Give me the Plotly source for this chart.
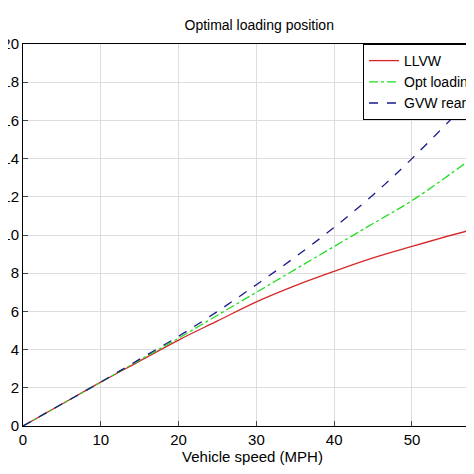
import plotly.graph_objects as go

speed = [0, 5, 10, 15, 20, 25, 30, 35, 40, 45, 50, 57, 59]
llvw = [0, 1.15, 2.3, 3.4, 4.5, 5.5, 6.5, 7.35, 8.1, 8.8, 9.4, 10.2, 10.4]
opt_loading = [0, 1.15, 2.3, 3.45, 4.6, 5.8, 7.0, 8.2, 9.4, 10.6, 11.8, 13.8, 14.4]
gvw_rear = [0, 1.15, 2.3, 3.5, 4.7, 6.0, 7.4, 8.85, 10.4, 12.1, 14.0, 16.9, 17.8]

fig = go.Figure()
fig.add_trace(go.Scatter(x=speed, y=llvw, name="LLVW", mode="lines",
                         line=dict(color="#d62728", width=1.3, shape="spline")))
fig.add_trace(go.Scatter(x=speed, y=opt_loading, name="Opt loading", mode="lines",
                         line=dict(color="#22dd22", width=1.3, dash="dashdot", shape="spline")))
fig.add_trace(go.Scatter(x=speed, y=gvw_rear, name="GVW rear", mode="lines",
                         line=dict(color="#1a1a8c", width=1.3, dash="dash", shape="spline")))

axis = dict(showgrid=True, gridcolor="#dddddd", showline=True, linecolor="black",
            mirror=True, ticks="inside", zeroline=False, automargin=False,
            tickfont=dict(family="Liberation Sans", size=15, color="black"))
fig.update_layout(
    width=474, height=474, plot_bgcolor="white", paper_bgcolor="white",
    margin=dict(l=15, r=0, t=36, b=56),
    title=dict(text="Optimal loading position", x=0.53, y=0.975,
               font=dict(family="Liberation Sans", size=14, color="black")),
    xaxis=dict(axis, range=[0, 59], dtick=10,
               title=dict(text="Vehicle speed (MPH)", standoff=2,
                          font=dict(family="Liberation Sans", size=15, color="black"))),
    yaxis=dict(axis, range=[0, 20], dtick=2),
    legend=dict(x=1.0, y=1.0, xanchor="right", yanchor="top",
                bordercolor="black", borderwidth=1, bgcolor="white",
                font=dict(family="Liberation Sans", size=14, color="black"),
                tracegroupgap=0),
)

fig.write_html("out.html")
